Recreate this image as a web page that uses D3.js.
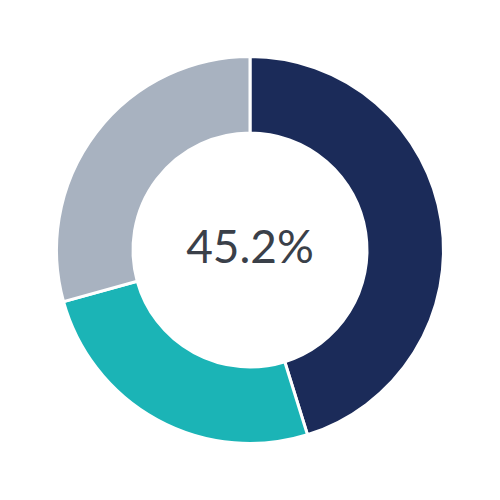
<!DOCTYPE html>
<html>
<head>
<meta charset="utf-8">
<script src="https://cdn.jsdelivr.net/npm/d3@7/dist/d3.min.js"></script>
<style>
html,body{margin:0;padding:0;background:#fff;}
</style>
</head>
<body>
<svg id="chart" width="500" height="500"></svg>
<script>
const categories = ["A", "B", "C"];
const values = [45.2, 25.5, 29.3];
const colors = ["#1b2b59", "#1bb4b6", "#a8b2c0"];
const centerLabel = "45.2%";

const svg = d3.select("#chart");
const g = svg.append("g").attr("transform", "translate(250,250)");

const pie = d3.pie().sort(null).value(d => d.v);
const arc = d3.arc().innerRadius(117).outerRadius(193.5);
const data = categories.map((c, i) => ({c, v: values[i]}));

g.selectAll("path").data(pie(data)).join("path")
  .attr("d", arc)
  .attr("fill", (d, i) => colors[i])
  .attr("stroke", "#fff")
  .attr("stroke-width", 3)
  .attr("stroke-linejoin", "miter");

g.append("text")
  .attr("text-anchor", "middle")
  .attr("y", 13)
  .attr("font-family", "Lato, sans-serif")
  .attr("font-size", 46)
  .attr("fill", "#3a4049")
  .text(centerLabel);
</script>
</body>
</html>
